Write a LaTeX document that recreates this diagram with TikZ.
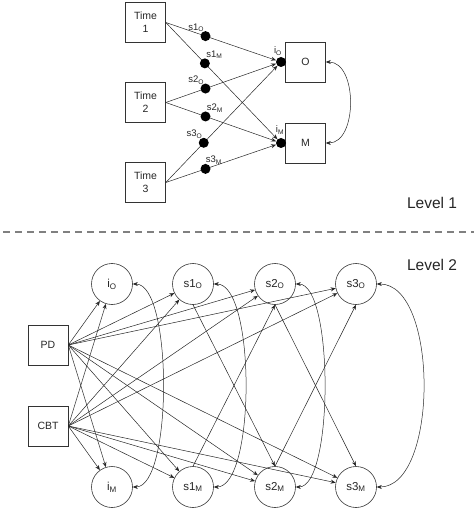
\documentclass[tikz,border=0pt]{standalone}
\usepackage{fontspec}
\setmainfont{Liberation Sans}
\usetikzlibrary{positioning,arrows.meta}
\tikzset{
  tbox/.style  ={draw=black!80, line width=0.6pt, minimum width=40pt,
                 minimum height=40pt, align=center, inner sep=1pt,
                 font=\fontsize{10.5}{13}\selectfont, text=black!85},
  lat/.style   ={draw=black!80, line width=0.6pt, circle, minimum size=41pt,
                 inner sep=0pt, font=\fontsize{11.5}{13}\selectfont, text=black!85},
  rdot/.style  ={circle, fill=black, minimum size=10pt, inner sep=0pt},
  lab/.style   ={font=\fontsize{9.5}{10}\selectfont, inner sep=0.5pt, text=black!85},
  lvl/.style   ={font=\fontsize{15.5}{18}\selectfont, text=black!85},
  fl/.style    ={-{Stealth[length=5pt,width=4pt]}, line width=0.5pt, black!85},
  cov/.style   ={{Stealth[length=5pt,width=4pt]}-{Stealth[length=5pt,width=4pt]},
                 line width=0.5pt, black!85},
}
\newcommand{\subO}{\textsubscript{O}}
\newcommand{\subM}{\textsubscript{M}}

\begin{document}
\begin{tikzpicture}[x=1pt,y=-1pt]
  \useasboundingbox (0,0) rectangle (474,510);

  % --- Level 1 -------------------------------------------------------
  \node[tbox] (t1) at (145.5,22.5)  {Time\\1};
  \node[tbox] (t2) at (145.5,102.5) {Time\\2};
  \node[tbox] (t3) at (145.5,182.5) {Time\\3};
  \node[tbox] (ob) at (305.5,62)    {O};
  \node[tbox] (mb) at (305.5,143)   {M};

  \node[rdot, left=-1pt of ob.west] (iOd) {};
  \node[rdot, left=-1pt of mb.west] (iMd) {};
  \node[lab, above=1pt of iOd, xshift=-3pt] (iOl) {i\subO};
  \node[lab, above=3pt of iMd, xshift=-1pt] (iMl) {i\subM};

  \draw[fl](t1.east) -- node[rdot, pos=.36](s1Od){} (iOd);
  \draw[fl](t1.east) -- node[rdot, pos=.35](s1Md){} (iMd);
  \draw[fl](t2.east) -- node[rdot, pos=.36](s2Od){} (iOd);
  \draw[fl](t2.east) -- node[rdot, pos=.36](s2Md){} (iMd);
  \draw[fl](t3.east) -- node[rdot, pos=.34](s3Od){} (iOd);
  \draw[fl](t3.east) -- node[rdot, pos=.36](s3Md){} (iMd);

  \node[lab, above left=0pt and -3pt of s1Od] (s1Ol) {s1\subO};
  \node[lab, above right=0pt and -3pt of s1Md] (s1Ml) {s1\subM};
  \node[lab, above left=0pt and -3pt of s2Od] (s2Ol) {s2\subO};
  \node[lab, above right=0pt and -3pt of s2Md] (s2Ml) {s2\subM};
  \node[lab, above left=0pt and -3pt of s3Od] (s3Ol) {s3\subO};
  \node[lab, above right=0pt and -4pt of s3Md] (s3Ml) {s3\subM};

  \draw[cov](ob.east) .. controls +(32,0) and +(32,0) .. (mb.east);

  \node[lvl] (lev1) at (432,203) {Level 1};
  \draw[black!50, line width=1.6pt, dash pattern=on 7pt off 5pt]
       (3,232) -- (474,232);
  \node[lvl] (lev2) at (432,265) {Level 2};

  % --- Level 2 -------------------------------------------------------
  \node[tbox] (pd)  at (48,345) {PD};
  \node[tbox] (cbt) at (48,426) {CBT};

  \node[lat] (iO)  at (112,284) {i\subO};
  \node[lat] (s1O) at (193,284) {s1\subO};
  \node[lat] (s2O) at (275,284) {s2\subO};
  \node[lat] (s3O) at (356,284) {s3\subO};
  \node[lat] (iM)  at (112,487) {i\subM};
  \node[lat] (s1M) at (193,487) {s1\subM};
  \node[lat] (s2M) at (275,487) {s2\subM};
  \node[lat] (s3M) at (356,487) {s3\subM};

  % --- arrows ---------------------------------------------------------
  \draw[fl](pd.east)--(iO);
  \draw[fl](pd.east)--(s1O);
  \draw[fl](pd.east)--(s2O);
  \draw[fl](pd.east)--(s3O);
  \draw[fl](pd.east)--(iM);
  \draw[fl](pd.east)--(s1M);
  \draw[fl](pd.east)--(s2M);
  \draw[fl](pd.east)--(s3M);
  \draw[fl](cbt.east)--(iO);
  \draw[fl](cbt.east)--(s1O);
  \draw[fl](cbt.east)--(s2O);
  \draw[fl](cbt.east)--(s3O);
  \draw[fl](cbt.east)--(iM);
  \draw[fl](cbt.east)--(s1M);
  \draw[fl](cbt.east)--(s2M);
  \draw[fl](cbt.east)--(s3M);

  \draw[fl](s1O.south)--(s2M.north);
  \draw[fl](s1M.north)--(s2O.south);
  \draw[fl](s2O.south)--(s3M.north);
  \draw[fl](s2M.north)--(s3O.south);

  \draw[cov](iO.east)  .. controls +(40,0) and +(40,0) .. (iM.east);
  \draw[cov](s1O.east) .. controls +(42,0) and +(42,0) .. (s1M.east);
  \draw[cov](s2O.east) .. controls +(38,0) and +(38,0) .. (s2M.east);
  \draw[cov](s3O.east) .. controls +(62,0) and +(62,0) .. (s3M.east);
\end{tikzpicture}
\end{document}
